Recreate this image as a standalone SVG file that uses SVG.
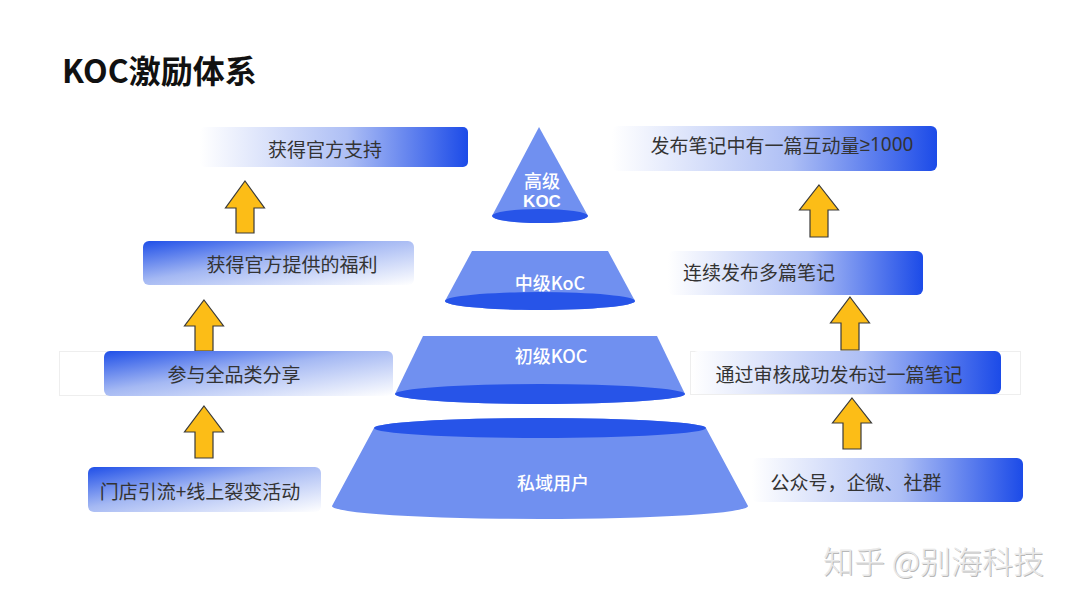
<svg xmlns="http://www.w3.org/2000/svg" width="1080" height="608" viewBox="0 0 1080 608">
<defs>
<linearGradient id="gR" x1="0" y1="0" x2="1" y2="0">
<stop offset="0" stop-color="#ffffff"/>
<stop offset="0.55" stop-color="#aebff5"/>
<stop offset="1" stop-color="#1c4be8"/>
</linearGradient>
<linearGradient id="gL" x1="0" y1="0" x2="1" y2="1">
<stop offset="0" stop-color="#1f4fe8"/>
<stop offset="0.45" stop-color="#a4b8f3"/>
<stop offset="1" stop-color="#ffffff"/>
</linearGradient>
<style>
.lbl{font-family:"Noto Sans CJK SC","Noto Sans",sans-serif;font-size:19px;fill:#333;dominant-baseline:central}
.lv{font-family:"Noto Sans CJK SC","Noto Sans",sans-serif;font-size:18px;font-weight:500;fill:#fff;text-anchor:middle;dominant-baseline:central}
.body{fill:#7090f0}
.rim{fill:#2754e8}
.arr{fill:#fcbd17;stroke:#3a3a3a;stroke-width:1.2;stroke-linejoin:miter}
</style>
</defs>
<rect width="1080" height="608" fill="#fff"/>
<text id="title" x="62" y="83" font-family="'Noto Sans CJK SC','Noto Sans',sans-serif" font-size="32" font-weight="bold" fill="#111">KOC激励体系</text>
<g id="connectors">
<polygon class="arr" points="245,181 264.5,208 254,208 254,233 236,233 236,208 225.5,208"/>
<polygon class="arr" points="204,300 223.5,326 213,326 213,351 195,351 195,326 184.5,326"/>
<polygon class="arr" points="204,406 223.5,432 213,432 213,458 195,458 195,432 184.5,432"/>
<polygon class="arr" points="819,185 838.5,210 828,210 828,237 810,237 810,210 799.5,210"/>
<polygon class="arr" points="850,297 869.5,323 859,323 859,350 841,350 841,323 830.5,323"/>
<polygon class="arr" points="852,398 871.5,423 861,423 861,449 843,449 843,423 832.5,423"/>
</g>
<g id="left1"><rect x="200" y="127" width="268" height="40" rx="5" fill="url(#gR)"/><text class="lbl" x="325" y="148" text-anchor="middle">获得官方支持</text></g>
<g id="left2"><rect x="143" y="241" width="271" height="44" rx="6" fill="url(#gL)"/><text class="lbl" x="292" y="263" text-anchor="middle">获得官方提供的福利</text></g>
<g id="left3"><rect x="59.5" y="351.5" width="60" height="44" fill="none" stroke="#eeeeee"/><rect x="104" y="351" width="289" height="45" rx="6" fill="url(#gL)"/><text class="lbl" x="234" y="373" text-anchor="middle">参与全品类分享</text></g>
<g id="left4"><rect x="88" y="467" width="233" height="45" rx="6" fill="url(#gL)"/><text class="lbl" x="200" y="490" text-anchor="middle">门店引流+线上裂变活动</text></g>
<g id="right1"><rect x="612" y="126" width="325" height="45" rx="6" fill="url(#gR)"/><text class="lbl" x="782" y="144" text-anchor="middle">发布笔记中有一篇互动量<tspan font-family="'Noto Sans',sans-serif">≥1000</tspan></text></g>
<g id="right2"><rect x="668" y="251" width="255" height="44" rx="6" fill="url(#gR)"/><text class="lbl" x="683" y="271">连续发布多篇笔记</text></g>
<g id="right3"><rect x="690.5" y="351.5" width="330" height="43" fill="none" stroke="#eeeeee"/><rect x="692" y="351" width="309" height="43" rx="6" fill="url(#gR)"/><text class="lbl" x="839" y="373" text-anchor="middle">通过审核成功发布过一篇笔记</text></g>
<g id="right4"><rect x="752" y="458" width="271" height="44" rx="6" fill="url(#gR)"/><text class="lbl" x="856" y="481" text-anchor="middle">公众号，企微、社群</text></g>
<g id="level4">
<path class="body" d="M374,428 A166,10 0 0 1 706,428 L748,506 A208,13 0 0 1 332,506 Z"/>
<ellipse class="rim" cx="540" cy="428" rx="166" ry="10"/>
<text class="lv" x="553" y="482">私域用户</text>
</g>
<g id="level3">
<path class="body" d="M423,336 L657,336 L685,394 A145,10 0 0 1 395,394 Z"/>
<ellipse class="rim" cx="540" cy="394" rx="145" ry="10"/>
<text class="lv" x="551" y="355">初级KOC</text>
</g>
<g id="level2">
<path class="body" d="M472,251 L608,251 L635,301 A95,9 0 0 1 445,301 Z"/>
<ellipse class="rim" cx="540" cy="301" rx="95" ry="9"/>
<text class="lv" x="550" y="282">中级KoC</text>
</g>
<g id="level1">
<path class="body" d="M539,127 L588,216 A48,7 0 0 1 492,216 Z"/>
<ellipse class="rim" cx="540" cy="216" rx="48" ry="7"/>
<text class="lv" x="542" y="180" font-size="17">高级</text>
<text x="542" y="207" font-family="'Liberation Sans',sans-serif" font-size="17" font-weight="bold" fill="#fff" text-anchor="middle">KOC</text>
</g>
<g id="credit">
<text x="824" y="574" font-family="'Noto Sans CJK SC',sans-serif" font-size="31" font-weight="300" fill="#b8b8b8">知乎 @别海科技</text>
<text x="823" y="573" font-family="'Noto Sans CJK SC',sans-serif" font-size="31" font-weight="300" fill="#e8e8e8">知乎 @别海科技</text>
</g>
</svg>
